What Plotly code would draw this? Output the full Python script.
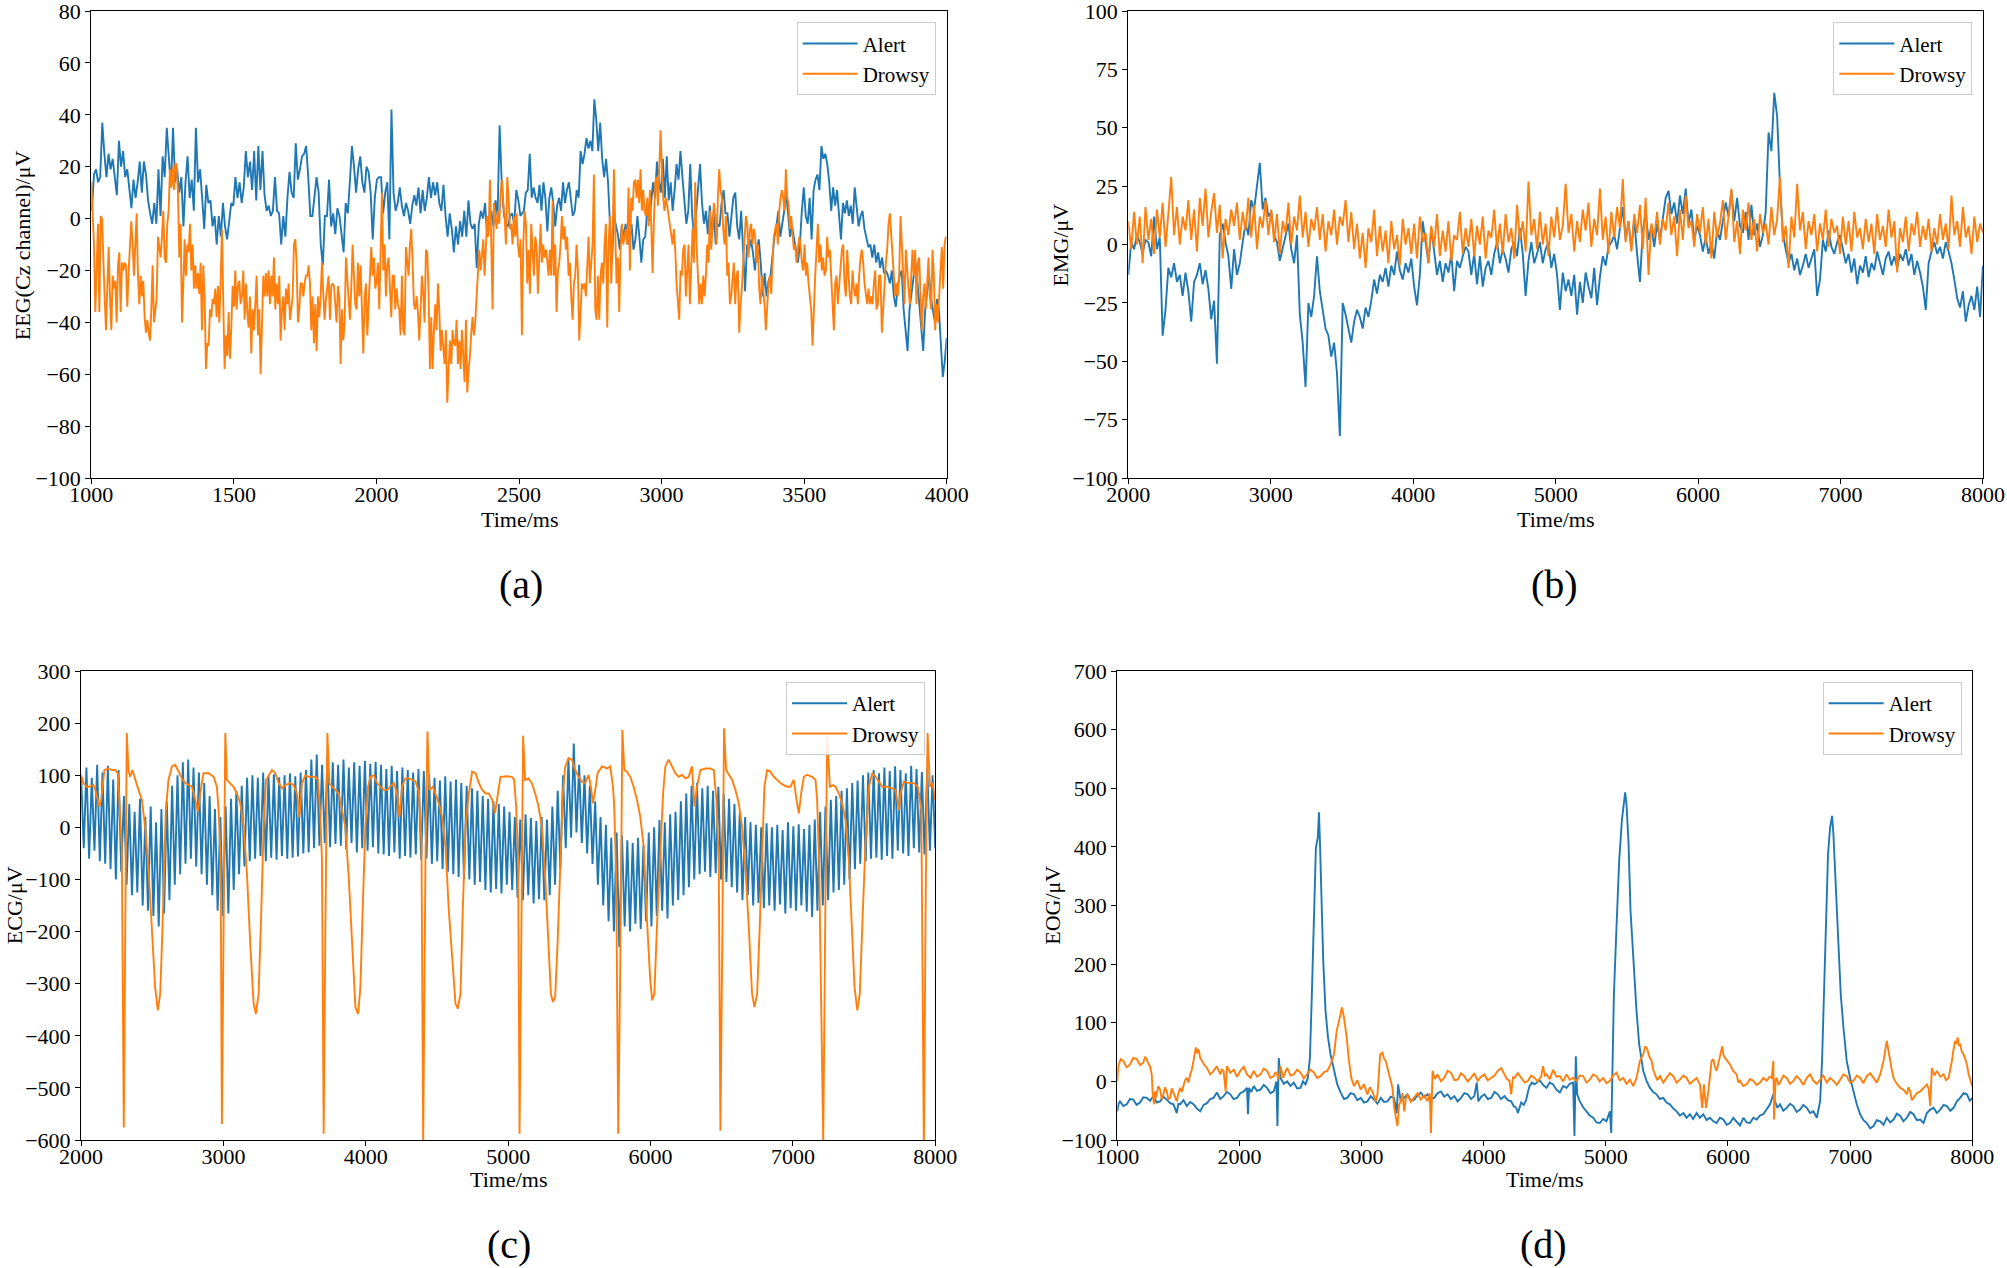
import numpy as np
import plotly.graph_objs as go

BLUE = "#1f77b4"
ORANGE = "#ff7f0e"
FONT = "Liberation Serif"

# ---------------- (a) EEG, Cz channel ----------------
eeg_alert_1 = [
    3, 17, 19, 14, 16, 37, 25, 16, 25, 19,
    23, 15, 9, 30, 20, 26, 16, 19, 11, 4,
    15, 8, 14, 22, 10, 22, 17, 7, 2, -2,
    6, -2, 19, 1, 24, 16, 35, 21, 12, 35,
    14, 19, 10, 16, -3, 14, 24, 8, 15, 3,
    35, 14, 19, 8, -4, 13, 6, 7, -3, 1,
    -10, 1, -7, 6, -3, -8, -1, 6, 5, 16,
    8, 14, 6, 12, 26, 16, 22, 11, 26, 7,
    28, 11, 26, 9, 3, 5, 1, 3, 16, 3,
    2, -10, 1, -7, 8, 18, 10, 8, 29, 15,
    19, 24, 25, 28, 16, 1, 1, 8, 16, 10,
    -10, -18, 1, 1, 15, -3, 2, -6, 4, 1,
    -7, -13, 6, 2, 14, 28, 20, 10, 19, 24,
    14, 10, 20, 18, 10, -8, 8, 15, 16, 16,
    2, 10, 14, -8, 42, 10, 3, 6, 12, 5,
    1, 6, 3, -2, 5, 9, 5, 12, 2, 11,
    3, 8, 16, 8, 14, 9, 14, 6, 3, 13,
    1, -7, 2, -4, -13, -3, -10, -1, -7, 3,
    -7, 7, -2, -4, -2, -19, -2, 3, 0, 6,
    -7, 1, 3, -3, 7, 1, 36, 14, 2, -2,
    -3, 1, 2, -2, 11, 7, 1,
]
eeg_alert_2 = [
    3, 10, 11, 25, 8, 12,
    8, 6, 13, 3, 14, 8, -5, 8, 12, 6,
    -3, 5, 8, 3, 14, 6, 11, 14, 6, 1,
    3, 11, 8, 26, 21, 25, 31, 27, 30, 26,
    46, 38, 26, 37, 23, 16, 23, 14, -2, -17,
    1, -2, -6, -12, -3, -7, -2, -10, -8, -2,
    -12, -8, 1, -7, -17, -8, -7, 3, -1, 6,
    14, 8, 22, 14, 10, 23, 8, 24, 7, 14,
    3, 11, 21, 15, 26, 16, 8, -2, 3, 21,
    1, -7, 2, 11, 21, 6, -2, 3, -6, 5,
    -7, 2, -10, -2, -3, 6, 11, 2, 2, -7,
    1, 8, 10, -3, -8, 3, -12, -28, -10, -12,
    -8, -13, -20, -12, -8, -17, -30, -21, -30, -24,
    -22, -15, -7, -3, 3, -7, -2, 3, 10, 1,
    -7, -3, -7, -12, -17, -10, 3, 12, 1, -2,
    8, -8, 11, 15, 17, 11, 28, 23, 25, 21,
    14, 3, 12, 5, 11, 1, -8, 6, 2, 7,
    1, 5, -2, 12, 3, -3, 1, 3, -4, -8,
    -11, -10, -15, -10, -17, -13, -19, -15, -21, -20,
    -22, -25, -20, -30, -34, -26, -22, -20, -35, -43,
    -51, -35, -29, -21, -17, -24, -33, -40, -51, -35,
    -29, -22, -31, -35, -40, -31, -35, -48, -61, -55, -46,
]
eeg_drowsy = [
    14, 3, -10, -36, -22, -2, -36, 1, 0, -20,
    -30, -43, -22, -11, -30, -43, -22, -27, -24, -40,
    -18, -13, -36, -17, -20, -17, -18, -34, -20, -7,
    -1, -10, -22, -10, 2, -22, -33, -22, -30, -24,
    -38, -44, -39, -44, -47, -35, -18, -40, -35, -31,
    -7, -12, -15, -7, 3, -15, -17, -2, 3, 19,
    12, 20, 11, 21, 21, 10, -15, -2, -40, -26,
    -8, -22, -10, -13, -2, -20, -10, -27, -18, -27,
    -21, -29, -17, -43, -18, -31, -58, -48, -49, -35,
    -38, -31, -33, -27, -38, -26, -40, -25, -4, -33,
    -58, -45, -53, -36, -54, -42, -26, -34, -20, -35,
    -26, -24, -33, -30, -20, -39, -25, -36, -42, -30,
    -52, -35, -43, -33, -22, -45, -35, -60, -40, -22,
    -30, -21, -30, -20, -33, -22, -30, -15, -35, -25,
    -33, -22, -47, -35, -30, -43, -27, -33, -25, -39,
    -35, -30, -10, -8, -17, -40, -35, -25, -25, -30,
    -25, -22, -22, -18, -25, -43, -30, -48, -33, -51,
    -30, -38, -30, -17, -29, -39, -31, -25, -22, -39,
    -26, -25, -26, -33, -40, -26, -30, -56, -35, -47,
    -40, -15, -22, -30, -39, -27, -10, -22, -33, -35,
    -17, -30, -18, -35, -52, -31, -25, -45, -30, -22,
    -11, -22, -15, -27, -24, -17, -35, -10, 10, -20,
    -10, -30, -18, -15, -27, -38, -22, -22, -35, -27,
    -33, -35, -45, -22, -43, -45, -11, -17, -22, -10,
    -4, -17, -33, -35, -30, -36, -47, -35, -22, -29,
    -40, -12, -13, -29, -58, -38, -58, -43, -33, -43,
    -25, -35, -51, -43, -51, -56, -43, -71, -58, -47,
    -56, -43, -48, -49, -39, -56, -47, -58, -43, -51,
    -63, -39, -67, -58, -53, -44, -38, -45, -40, -30,
    -22, -12, -20, -15, -8, -22, -7, 1, -7, 15,
    -10, -35, 6, 1, -4, 3, -2, 10, 15, 6,
    1, -10, 16, 8, -4, -2, -10, 1, -7, 2,
    -10, -15, -8, -45,
    -10, 3, -2, -25,
    -12, -29, -2, -12, -22, -7, -10, -29, -12, -2,
    -17, -10, -15, -12, -16, -22, -12, -22, 7, -22,
    -10, -36, -20, -17, -10, 1, -8, -3, -12, -7,
    -22, -17, -30, -39, -25, -22, -10, -20, -47, -33,
    -25, -27, -25, -30, -17, -7, -25, -17, -10, 17,
    -35, -39, -22, -39, -22, -17, -25, -10, -2, -42,
    -10, 1, -25, -8, 19, -4, -25, -15, -36, -12,
    -2, -10, -7, -4, -10, 12, -20, 8, 3, 14,
    15, 8, 15, 6, 19, 3, 11, 3, 1, 8,
    -3, 11, -2, -21, -1, 14, 16, 5, 19, 34,
    20, 8, 3, 8, 5, 1, -4, -8, -10, -4,
    -12, -25, -33, -39, -20, -22, -12, -10, -30, -17,
    -10, -33, -20, -4, -17, 14, -10, -22, -33, -25,
    -33, -22, -30, -22, -10, -17, 3, -12, -1, 6,
    1, -10, 8, 19, 11, 8, -4, -10, 1, -22,
    -17, -33, -30, -22, -17, -33, -22, -20, -44, -33,
    -27, -17, -7, 1, -2, -15, -4, -2, -10, -4,
    -7, -17, -10, -27, -33, -22, -27, -33, -43, -33,
    -25, -22, -29, -17, -7, -4, -2, -10, 3, 8,
    11, 8, 3, 19, 8, 6, -4, 1, -7, -12,
    -10, -17, -12, -7, -10, -17, -20, -10, -22, -17,
    -25, -30, -35, -49, -33, -22, -12, -2, -17, -10,
    -20, -15, -22, -20, -7, -15, -12, -22, -30, -43,
    -25, -22, -33, -25, -20, -12, -10, -25, -30, -12,
    -22, -30, -33, -20, -27, -30, -25, -33, -22, -15,
    -12, -17, -25, -30, -33, -27, -33, -30, -33, -25,
    -20, -35, -33, -22, -22, -44, -33, -22, -17, -12,
    -2, 2, -7, -12, -22, -30, -25, -30, -22, 1,
    -10, -20, -33, -12, -22, -27, -33, -20, -12, -22,
    -12, -33, -17, -15, -33, -43, -30, -25, -35, -22,
    -15, -30, -35, -12, -22, -43, -33, -40, -27, -20,
    -11, -27, -10, -7,
]

# ---------------- (b) EMG ----------------
emg_alert = [
    -13, 1, -2, 4, 1, -4, 2, 1, -5, 12,
    -2, 3, -39, -28, -10, -14, -8, -16, -13, -22,
    -12, -20, -33, -16, -13, -8, -17, -11, -19, -32,
    -24, -51, 4, 9, 1, -5, -19, -2, -13, -8,
    1, 9, 4, 19, 15, 26, 35, 15, 20, 12,
    14, 4, 1, -7, -2, 4, 9, -2, -8, 4,
    -30, -42, -61, -25, -31, -22, -5, -20, -28, -36,
    -39, -48, -42, -55, -82, -25, -30, -36, -42, -33,
    -28, -31, -36, -27, -31, -24, -15, -21, -13, -16,
    -10, -18, -9, -13, -3, -11, -15, -8, -12, -6,
    -18, -26, -13, 10, 1, -8, 7, -2, -13, -7,
    -16, -8, -12, -4, -20, -7, -10, -5, -1, -3,
    -13, -4, -17, -5, -18, -10, -7, -13, -4, 1,
    -8, -2, -6, -12, -2, 1, -5, 7, -4, -22,
    -7, 1, -8, -4, 1, -8, -2, 1, -10, -4,
    -13, -28, -12, -20, -15, -22, -13, -30, -16, -25,
    -12, -18, -23, -10, -26, -14, -5, -9, -1, 1,
    4, -2, 7, 16, 2, 10, -2, 11, -4, -16,
    6, 14, 2, 8, -1, 9, 2, 11, 20, 23,
    13, 18, 9, 21, 13, 24, 9, 15, 2, 8,
    4, -3, 3, -4, 1, -6, 6, 2, 10, 18,
    12, 23, 10, 20, 8, 5, 14, 2, 17, 4,
    9, -1, 4, 14, 48, 40, 65, 55, 25, 5,
    -2, -8, -4, -11, -6, -13, -9, -4, -10, -6,
    -2, -22, -15, 2, -3, 6, -1, -4, 1, 4,
    -2, -8, -4, -12, -6, -17, -9, -12, -5, -14,
    -8, -11, -3, -8, -13, -6, -3, -9, -5, -10,
    -4, -7, -2, -9, -4, -13, -7, -12, -18, -28,
    -8, -3, 1, -4, -1, -6, 1, -3, -8, -15,
    -23, -27, -20, -33, -26, -22, -28, -18, -31, -9,
]
emg_drowsy = [
    10, -2, 14, 0, 12, -8, 16, 2, 11, -4,
    15, 3, 18, -1, 13, 29, 4, 16, 0, 12,
    6, 19, 2, 15, -3, 20, 8, 24, 3, 14,
    22, 5, 17, -6, 11, 4, 15, 8, 18, 2,
    14, 6, 20, 3, 17, -2, 12, 7, 19, 4,
    15, 1, 13, -4, 10, 5, 18, 0, 12, 6,
    21, 3, 14, -1, 11, 6, 16, 2, 13, -3,
    10, 4, 15, 0, 12, 8, 19, 1, 14, -2,
    9, -6, 5, -10, 7, 1, 15, -5, 8, -3,
    6, -8, 10, -2, 4, -9, 11, 0, 7, -4,
    9, -6, 12, 1, 5, -8, 8, -1, 13, -5,
    6, -3, 10, -7, 4, 2, 14, -4, 7, -1,
    11, -5, 8, 0, 12, -6, 6, 3, 15, -2,
    9, -4, 13, 1, 7, -6, 17, 2, 10, -3,
    27, 4, 11, -2, 14, 0, 9, -5, 12, 3,
    16, 2, 8, 26, 5, 13, -3, 10, 1, 15,
    6, 18, -1, 11, 4, 24, 2, 12, -4, 14,
    3, 16, 7, 28, 1, 10, -3, 13, 5, 17,
    -2, 20, -13, 9, 3, 14, 0, 11, 6, 18,
    4, 12, -5, 15, 2, 21, 7, 10, -1, 13,
    5, 16, 0, 11, -6, 14, 3, 9, 19, 2,
    12, 24, 1, 10, -4, 15, 6, 18, 2, 11,
    -3, 13, 5, 9, 0, 16, 4, 11, 29, 1,
    8, -10, 12, 3, 26, 6, 14, -2, 10, 4,
    13, -3, 9, 2, 15, -1, 11, 5, 8, -4,
    12, 0, 10, -3, 14, 3, 7, -2, 11, 1,
    9, -4, 13, 2, 8, -1, 15, 3, 10, -12,
    7, 1, 12, -3, 9, 4, 14, -1, 8, 2,
    11, -3, 7, 0, 13, 2, 9, -2, 21, 4,
    10, -1, 16, 3, 8, -4, 12, 1, 9, 5,
]

# ---------------- (c) ECG ----------------
ecg_alert = [
    100, -40, 115, -60, 95, -45, 120, -65, 105, -70, 118, -80, 92, -100, 110, -85,
    60, -110, 45, -130, 30, -125, 55, -150, 20, -160, 40, -170, 10, -190, 35, -165,
    50, -140, 80, -110, 100, -90, 125, -70, 130, -60, 115, -75, 105, -90, 85, -110,
    60, -130, 35, -160, 20, -170, 40, -165, 55, -120, 70, -90, 80, -75, 95, -65,
    100, -60, 95, -55, 105, -65, 98, -58, 102, -62, 96, -55, 100, -60, 104, -58,
    98, -56, 105, -50, 110, -48, 130, -40, 140, -35, 120, -30, 135, -38, 125, -32,
    120, -35, 130, -42, 115, -30, 125, -48, 118, -40, 128, -45, 122, -38, 126, -50,
    120, -52, 112, -55, 118, -48, 108, -60, 115, -55, 110, -58, 105, -52, 112, -62,
    108, -60, 100, -70, 95, -65, 90, -80, 98, -85, 88, -90, 92, -95, 85, -100,
    80, -100, 75, -110, 70, -105, 60, -120, 55, -125, 50, -118, 45, -127, 40, -110,
    30, -120, 20, -135, 15, -140, 25, -130, 18, -146, 12, -138, 20, -140, 15, -130,
    40, -110, 70, -80, 100, -40, 130, -20, 161, -10, 120, -30, 100, -50, 80, -70,
    50, -110, 20, -150, 5, -180, -20, -200, -10, -230, -15, -190, -25, -200, -30, -185,
    -20, -195, -35, -180, -10, -190, 0, -170, 14, -160, 10, -175, 25, -150, 30, -140,
    50, -130, 65, -115, 80, -100, 85, -90, 75, -85, 80, -95, 70, -88, 78, -100,
    65, -105, 55, -115, 45, -125, 30, -140, 20, -130, 10, -150, 5, -145, 0, -155,
    8, -150, 0, -160, 5, -148, -5, -165, 10, -155, 2, -160, 6, -150, -3, -162,
    5, -172, 15, -160, 30, -150, 40, -140, 53, -125, 60, -120, 70, -110, 75, -100,
    85, -80, 90, -70, 100, -65, 105, -60, 110, -58, 104, -62, 115, -55, 108, -60,
    117, -45, 110, -50, 104, -55, 118, -40, 112, -48, 106, -52, 115, -45, 100, -40,
]
ecg_drowsy_t = [
    2000, 2016, 2040, 2063, 2087, 2103, 2127, 2141, 2164, 2192, 2216, 2239, 2258, 2270, 2286,
    2300, 2309, 2321, 2333, 2345, 2361, 2380, 2403, 2427, 2450, 2473, 2497, 2520, 2539, 2556,
    2572, 2586, 2595, 2614, 2638, 2661, 2684, 2708, 2731, 2755, 2778, 2802, 2820, 2837, 2860,
    2895, 2931, 2954, 2966, 2980, 2989, 3001, 3013, 3024, 3048, 3071, 3095, 3118, 3142, 3165,
    3188, 3212, 3228, 3247, 3266, 3282, 3299, 3317, 3341, 3364, 3388, 3411, 3435, 3470, 3493,
    3517, 3533, 3552, 3575, 3599, 3622, 3646, 3664, 3681, 3692, 3704, 3716, 3730, 3744, 3763,
    3786, 3810, 3833, 3856, 3880, 3903, 3927, 3946, 3962, 3978, 3997, 4016, 4032, 4056, 4079,
    4103, 4126, 4149, 4173, 4196, 4220, 4236, 4255, 4278, 4302, 4325, 4349, 4372, 4391, 4403,
    4419, 4433, 4447, 4471, 4489, 4513, 4536, 4560, 4583, 4607, 4630, 4646, 4665, 4681, 4700,
    4724, 4747, 4771, 4794, 4818, 4841, 4864, 4888, 4907, 4923, 4946, 4991, 5026, 5042, 5056,
    5070, 5080, 5091, 5105, 5119, 5143, 5166, 5190, 5213, 5237, 5260, 5284, 5300, 5314, 5330,
    5347, 5366, 5384, 5401, 5424, 5448, 5471, 5495, 5518, 5541, 5565, 5581, 5595, 5612, 5628,
    5659, 5694, 5717, 5736, 5745, 5759, 5773, 5788, 5802, 5816, 5834, 5858, 5881, 5905, 5928,
    5952, 5975, 5998, 6012, 6027, 6045, 6064, 6088, 6104, 6127, 6151, 6174, 6198, 6221, 6245,
    6268, 6291, 6308, 6327, 6350, 6385, 6420, 6444, 6463, 6479, 6491, 6505, 6516, 6531, 6549,
    6573, 6596, 6620, 6643, 6666, 6690, 6713, 6730, 6749, 6767, 6784, 6800, 6819, 6842, 6866,
    6889, 6913, 6936, 6960, 6983, 7006, 7025, 7042, 7058, 7077, 7100, 7135, 7159, 7170, 7184,
    7213, 7229, 7241, 7260, 7283, 7299, 7323, 7346, 7370, 7393, 7416, 7433, 7452, 7470, 7487,
    7510, 7534, 7557, 7581, 7604, 7628, 7663, 7698, 7721, 7745, 7756, 7780, 7815, 7850, 7878,
    7902, 7920, 7934, 7946, 7963, 7981, 8000,
]
ecg_drowsy_v = [
    100, 85, 78, 78, 81, 69, 40, 53, 110, 113, 110, 110, 104, 40, -37,
    -576, -255, 181, 110, 97, 110, 91, 72, 53, 1, -76, -191, -306, -351, -319,
    -191, -63, 33, 91, 117, 120, 107, 94, 85, 81, 78, 53, 30, 65, 104,
    104, 97, 78, 33, -63, -569, -191, 181, 91, 85, 78, 65, 46, 1, -88,
    -223, -338, -358, -319, -159, 1, 91, 100, 110, 104, 85, 75, 81, 85, 81,
    65, 20, 85, 100, 97, 97, 97, 91, 20, -63, -588, -191, 181, 85, 78,
    72, 65, 33, 1, -95, -223, -345, -358, -306, -159, 1, 78, 97, 100, 85,
    78, 72, 72, 78, 85, 65, 20, 78, 94, 94, 91, 88, 69, -31, -605,
    -63, 184, 72, 78, 65, 46, 20, -37, -159, -255, -338, -348, -319, -159, 1,
    65, 107, 104, 85, 72, 65, 65, 53, 27, 53, 97, 98, 97, 91, 40,
    -63, -588, -255, 176, 91, 94, 85, 65, 40, 1, -95, -223, -319, -335, -326,
    -223, -63, 65, 117, 133, 130, 110, 97, 88, 85, 101, 78, 46, 72, 104,
    117, 113, 117, 78, 40, -95, -588, -255, 187, 110, 107, 97, 78, 53, 20,
    -37, -178, -294, -332, -319, -191, -63, 65, 117, 130, 117, 104, 97, 101, 94,
    97, 117, 40, 78, 110, 113, 113, 110, 53, -63, -582, -191, 190, 110, 101,
    91, 72, 46, 1, -76, -191, -319, -345, -319, -191, -31, 78, 110, 107, 97,
    91, 85, 81, 78, 78, 91, 53, 27, 65, 97, 101, 97, 91, 53, -63,
    -605, -127, 174, 78, 81, 78, 65, 46, 14, -63, -191, -306, -351, -319, -191,
    -31, 78, 104, 97, 88, 78, 78, 75, 72, 33, 65, 88, 85, 85, 78,
    33, -620, -100, 181, 78, 85, 53,
]

# ---------------- (d) EOG ----------------
eog_alert_t = [
    1000, 1011, 1022, 1050, 1077, 1104, 1131, 1158, 1186, 1213, 1241, 1268, 1296, 1323, 1350,
    1378, 1405, 1432, 1460, 1487, 1500, 1515, 1542, 1569, 1596, 1624, 1651, 1679, 1706, 1734,
    1761, 1788, 1816, 1843, 1870, 1898, 1925, 1952, 1980, 2007, 2035, 2062, 2070, 2079, 2098,
    2117, 2144, 2172, 2199, 2226, 2254, 2281, 2303, 2311, 2322, 2336, 2363, 2391, 2418, 2445,
    2472, 2500, 2520, 2541, 2560, 2577, 2593, 2610, 2626, 2642, 2651, 2659, 2670, 2686, 2705,
    2725, 2746, 2774, 2801, 2829, 2856, 2883, 2910, 2938, 2965, 2993, 3020, 3048, 3075, 3102,
    3130, 3157, 3184, 3212, 3239, 3266, 3288, 3299, 3321, 3348, 3376, 3403, 3431, 3458, 3485,
    3512, 3540, 3567, 3595, 3622, 3650, 3677, 3704, 3731, 3759, 3786, 3814, 3841, 3869, 3896,
    3923, 3943, 3956, 3980, 4006, 4033, 4061, 4088, 4115, 4142, 4170, 4197, 4225, 4245, 4266,
    4280, 4307, 4328, 4348, 4362, 4375, 4395, 4416, 4457, 4486, 4514, 4541, 4568, 4595, 4623,
    4650, 4678, 4705, 4732, 4743, 4754, 4765, 4787, 4814, 4841, 4868, 4896, 4923, 4951, 4978,
    5005, 5033, 5044, 5055, 5066, 5087, 5109, 5131, 5147, 5158, 5169, 5186, 5202, 5224, 5251,
    5273, 5306, 5333, 5361, 5388, 5415, 5442, 5470, 5497, 5524, 5551, 5579, 5606, 5634, 5661,
    5688, 5715, 5743, 5770, 5798, 5825, 5852, 5880, 5907, 5934, 5962, 5989, 6016, 6043, 6071,
    6098, 6126, 6153, 6180, 6208, 6235, 6262, 6289, 6316, 6344, 6371, 6385, 6405, 6426, 6453,
    6481, 6508, 6535, 6562, 6590, 6617, 6645, 6672, 6699, 6727, 6754, 6770, 6787, 6803, 6819,
    6836, 6852, 6863, 6880, 6901, 6923, 6945, 6972, 7000, 7027, 7054, 7082, 7109, 7136, 7164,
    7191, 7218, 7246, 7273, 7300, 7328, 7355, 7382, 7410, 7437, 7464, 7492, 7519, 7546, 7574,
    7601, 7628, 7656, 7683, 7710, 7738, 7765, 7792, 7820, 7847, 7874, 7901, 7929, 7956, 7980,
    8000,
]
eog_alert_v = [
    -51, -38, -34, -42, -39, -30, -31, -40, -36, -27, -28, -33, -25, -36, -34,
    -26, -31, -37, -39, -54, -38, -39, -32, -42, -35, -39, -46, -51, -40, -37,
    -30, -28, -19, -30, -25, -18, -22, -30, -28, -20, -17, -11, -56, -11, -18,
    -8, -16, -14, -6, -11, -20, -17, 0, -76, 40, 6, -4, 0, -8, -2,
    -12, -11, 0, -5, 6, 40, 149, 291, 399, 416, 459, 410, 319, 206, 120,
    75, 46, 18, -5, -19, -30, -28, -20, -22, -32, -28, -36, -34, -25, -31,
    -38, -28, -35, -34, -26, -28, -54, -5, -34, -28, -22, -33, -31, -24, -19,
    -27, -22, -30, -28, -20, -17, -26, -22, -30, -25, -34, -28, -20, -22, -30,
    -25, -2, -34, -26, -22, -30, -28, -18, -22, -30, -25, -32, -34, -42, -45,
    -54, -36, -40, -31, -18, -8, -2, -5, 2, -6, -11, -2, -5, -14, -19,
    -8, -11, -4, -2, -93, 43, -22, -34, -44, -51, -58, -62, -70, -71, -64,
    -68, -51, -88, 35, 149, 263, 376, 445, 479, 493, 473, 405, 291, 206, 120,
    63, 18, 1, -11, -18, -22, -30, -28, -36, -39, -46, -51, -58, -54, -62,
    -56, -64, -54, -62, -56, -66, -62, -68, -71, -62, -65, -74, -71, -62, -68,
    -75, -62, -70, -71, -62, -65, -58, -56, -48, -39, -22, -34, -45, -39, -50,
    -45, -38, -42, -52, -48, -40, -45, -54, -51, -62, -34, 35, 149, 263, 388,
    433, 453, 422, 348, 234, 149, 92, 35, 6, -17, -39, -56, -66, -71, -80,
    -76, -66, -68, -74, -62, -70, -65, -55, -59, -68, -62, -52, -56, -66, -65,
    -71, -54, -48, -45, -54, -48, -40, -42, -50, -45, -34, -28, -20, -22, -33,
    -28,
]
eog_drowsy_t = [
    1000, 1008, 1028, 1049, 1076, 1104, 1131, 1159, 1186, 1213, 1227, 1241, 1255, 1268, 1282,
    1290, 1301, 1309, 1316, 1323, 1336, 1350, 1364, 1378, 1391, 1405, 1418, 1432, 1446, 1460,
    1473, 1487, 1500, 1515, 1528, 1542, 1555, 1569, 1583, 1597, 1610, 1624, 1643, 1654, 1665,
    1679, 1693, 1713, 1734, 1761, 1788, 1815, 1843, 1856, 1870, 1887, 1898, 1925, 1953, 1980,
    2007, 2035, 2062, 2090, 2117, 2144, 2172, 2199, 2226, 2254, 2281, 2295, 2308, 2322, 2336,
    2358, 2375, 2391, 2418, 2445, 2472, 2500, 2527, 2555, 2582, 2610, 2637, 2664, 2692, 2719,
    2746, 2774, 2796, 2812, 2823, 2839, 2856, 2878, 2897, 2916, 2938, 2965, 2993, 3020, 3048,
    3068, 3089, 3116, 3130, 3152, 3171, 3185, 3198, 3212, 3225, 3240, 3253, 3267, 3294, 3307,
    3321, 3335, 3349, 3362, 3376, 3403, 3431, 3458, 3485, 3512, 3540, 3558, 3568, 3581, 3600,
    3622, 3650, 3677, 3704, 3732, 3760, 3787, 3814, 3841, 3869, 3896, 3923, 3951, 3978, 4006,
    4033, 4060, 4088, 4115, 4143, 4170, 4190, 4211, 4225, 4240, 4252, 4280, 4307, 4335, 4362,
    4389, 4416, 4443, 4471, 4486, 4500, 4514, 4541, 4568, 4595, 4623, 4650, 4678, 4705, 4732,
    4760, 4787, 4814, 4841, 4869, 4896, 4923, 4950, 4978, 5005, 5033, 5060, 5087, 5114, 5142,
    5170, 5197, 5224, 5251, 5279, 5306, 5322, 5339, 5356, 5374, 5388, 5402, 5420, 5443, 5470,
    5497, 5524, 5552, 5579, 5606, 5634, 5661, 5688, 5716, 5743, 5770, 5789, 5803, 5820, 5839,
    5866, 5880, 5893, 5907, 5920, 5934, 5953, 5963, 5975, 5995, 6016, 6043, 6071, 6085, 6098,
    6125, 6153, 6180, 6207, 6235, 6262, 6290, 6317, 6340, 6358, 6371, 6377, 6390, 6399, 6413,
    6426, 6453, 6481, 6508, 6535, 6562, 6590, 6617, 6645, 6672, 6699, 6727, 6754, 6781, 6809,
    6836, 6863, 6890, 6918, 6945, 6972, 7000, 7027, 7055, 7082, 7109, 7136, 7164, 7191, 7218,
    7246, 7273, 7300, 7314, 7328, 7341, 7355, 7382, 7410, 7437, 7464, 7478, 7492, 7505, 7519,
    7546, 7574, 7601, 7628, 7642, 7656, 7669, 7690, 7710, 7738, 7765, 7785, 7806, 7820, 7833,
    7847, 7860, 7870, 7880, 7890, 7901, 7915, 7929, 7943, 7956, 7970, 7983, 8000,
]
eog_drowsy_v = [
    0, 26, 38, 35, 24, 29, 40, 38, 28, 32, 42, 38, 30, 26, 12,
    -22, -39, -17, -28, -22, -8, -14, -30, -22, -10, -17, -30, -28, -12, -19,
    -26, -34, -20, -11, -18, -5, 2, 6, -2, 12, 20, 35, 58, 48, 55,
    40, 35, 28, 23, 12, 18, 26, 12, 20, 18, -17, 26, 15, 20, 8,
    18, 25, 12, 6, 18, 8, 12, 22, 18, 6, 9, 16, 12, 4, 26,
    6, 16, 23, 10, 12, 20, 15, 5, 12, 20, 15, 6, 9, 16, 18,
    29, 46, 86, 100, 109, 126, 109, 75, 35, 6, -8, 2, -14, -5, -22,
    -10, -17, -34, -22, 46, 49, 38, 35, 20, 12, 0, -11, -45, -76, -40,
    -34, -20, -51, -30, -22, -35, -28, -20, -31, -24, -34, -20, -88, 18, 4,
    12, 0, 6, 18, 15, 2, 3, 14, 9, 0, 6, 14, 1, 8, 12,
    2, 6, 10, 18, 23, 12, 4, 1, -22, 8, 6, 14, 6, -2, 1,
    10, 6, 0, 9, 26, 10, 12, 4, 20, 8, 9, 0, 12, 3, 6,
    1, 10, 9, -2, 3, 12, 9, 0, 6, -3, 1, 10, 15, 2, 6,
    -4, 3, -8, 6, 35, 46, 60, 55, 42, 35, 20, 12, 2, 9, -2,
    6, 14, 9, -2, 3, 10, 6, -4, 1, 6, -5, -45, -5, -45, -17,
    35, 38, 25, 18, 30, 43, 60, 45, 40, 35, 29, 18, 12, -2, 1,
    -8, -5, 4, 1, -6, -2, 6, 1, 8, 6, 35, -65, 4, 6, -6,
    -2, 10, 6, -4, 1, 9, 3, -6, 6, 12, 1, -4, 3, 10, -2,
    6, 1, -6, 3, 12, 9, -2, 1, 10, 6, -3, 9, 14, 6, -2,
    12, 35, 69, 50, 35, 20, 6, -4, -11, -14, -22, -10, -17, -32, -28,
    -20, -17, -11, -5, -12, -42, 23, 10, 18, 8, 12, 2, 6, 20, 35,
    55, 69, 64, 75, 62, 63, 50, 46, 38, 29, 12, 1, -8,
]


def axis_style(domain, rng, dtick, anchor, standoff):
    return dict(
        domain=domain, range=rng, dtick=dtick, anchor=anchor,
        showline=True, linecolor="black", linewidth=1.2, mirror=True,
        ticks="outside", ticklen=5, tickwidth=1.2, tickcolor="black",
        showgrid=False, zeroline=False, automargin=False,
        ticklabeloverflow="allow", ticklabelstandoff=standoff,
        tickfont=dict(family=FONT, size=22, color="black"),
    )


def legend_style(x, y):
    return dict(
        x=x, y=y, xanchor="right", yanchor="top",
        bgcolor="rgba(255,255,255,0.85)", bordercolor="#cccccc", borderwidth=1,
        font=dict(family=FONT, size=21, color="black"), tracegroupgap=0,
        itemwidth=55,
    )


fig = go.Figure()

t_a1 = np.linspace(1002, 2505, len(eeg_alert_1))
t_a2 = np.linspace(2517, 4000, len(eeg_alert_2))
t_ad = np.linspace(1000, 3997, len(eeg_drowsy))
t_b = np.linspace(2000, 8000, len(emg_alert))
t_bd = np.linspace(2000, 8000, len(emg_drowsy))
t_c = np.linspace(2000, 8000, len(ecg_alert))

panels = [
    ("x", "y", "legend", np.concatenate([t_a1, t_a2]), eeg_alert_1 + eeg_alert_2, t_ad, eeg_drowsy),
    ("x2", "y2", "legend2", t_b, emg_alert, t_bd, emg_drowsy),
    ("x3", "y3", "legend3", t_c, ecg_alert, ecg_drowsy_t, ecg_drowsy_v),
    ("x4", "y4", "legend4", eog_alert_t, eog_alert_v, eog_drowsy_t, eog_drowsy_v),
]
for xa, ya, lg, ta, va, td, vd in panels:
    fig.add_trace(go.Scatter(x=ta, y=va, mode="lines", name="Alert",
                             line=dict(color=BLUE, width=1.9),
                             xaxis=xa, yaxis=ya, legend=lg))
    fig.add_trace(go.Scatter(x=td, y=vd, mode="lines", name="Drowsy",
                             line=dict(color=ORANGE, width=1.9),
                             xaxis=xa, yaxis=ya, legend=lg))

top = [0.623, 0.9913]
bot = [0.1009, 0.4708]
fig.update_layout(
    width=2007, height=1268,
    margin=dict(l=0, r=0, t=0, b=0),
    paper_bgcolor="white", plot_bgcolor="white",
    font=dict(family=FONT, size=21, color="black"),
    xaxis=axis_style([0.0455, 0.4717], [1000, 4000], 500, "y", -9),
    yaxis=axis_style(top, [-100, 80], 20, "x", 0),
    xaxis2=axis_style([0.5622, 0.9880], [2000, 8000], 1000, "y2", -9),
    yaxis2=axis_style(top, [-100, 100], 25, "x2", 0),
    xaxis3=axis_style([0.0404, 0.4660], [2000, 8000], 1000, "y3", -9),
    yaxis3=axis_style(bot, [-600, 300], 100, "x3", 0),
    xaxis4=axis_style([0.5567, 0.9827], [1000, 8000], 1000, "y4", -9),
    yaxis4=axis_style(bot, [-100, 700], 100, "x4", 0),
    legend=legend_style(0.4662, 0.9824),
    legend2=legend_style(0.9827, 0.9824),
    legend3=legend_style(0.4609, 0.4621),
    legend4=legend_style(0.9774, 0.4621),
    showlegend=True,
)

# axis titles and panel captions
labels = [
    (0.0112, 0.807, "EEG(Cz channel)/μV", -90, 22),
    (0.5285, 0.807, "EMG/μV", -90, 22),
    (0.0073, 0.2859, "ECG/μV", -90, 22),
    (0.5243, 0.2859, "EOG/μV", -90, 22),
    (0.2586, 0.5905, "Time/ms", 0, 22),
    (0.7751, 0.5905, "Time/ms", 0, 22),
    (0.2532, 0.0700, "Time/ms", 0, 22),
    (0.7697, 0.0700, "Time/ms", 0, 22),
    (0.2596, 0.5394, "(a)", 0, 40),
    (0.7746, 0.5394, "(b)", 0, 40),
    (0.2535, 0.0189, "(c)", 0, 40),
    (0.7692, 0.0189, "(d)", 0, 40),
]
for x, y, text, angle, size in labels:
    fig.add_annotation(x=x, y=y, xref="paper", yref="paper", text=text,
                       textangle=angle, showarrow=False,
                       xanchor="center", yanchor="middle",
                       font=dict(family=FONT, size=size, color="black"))

# the page itself should add no margin around the 2007x1268 figure
fig.write_html("out.html", config={"displayModeBar": False},
               post_script="document.body.style.margin='0';document.body.style.overflow='hidden';")
